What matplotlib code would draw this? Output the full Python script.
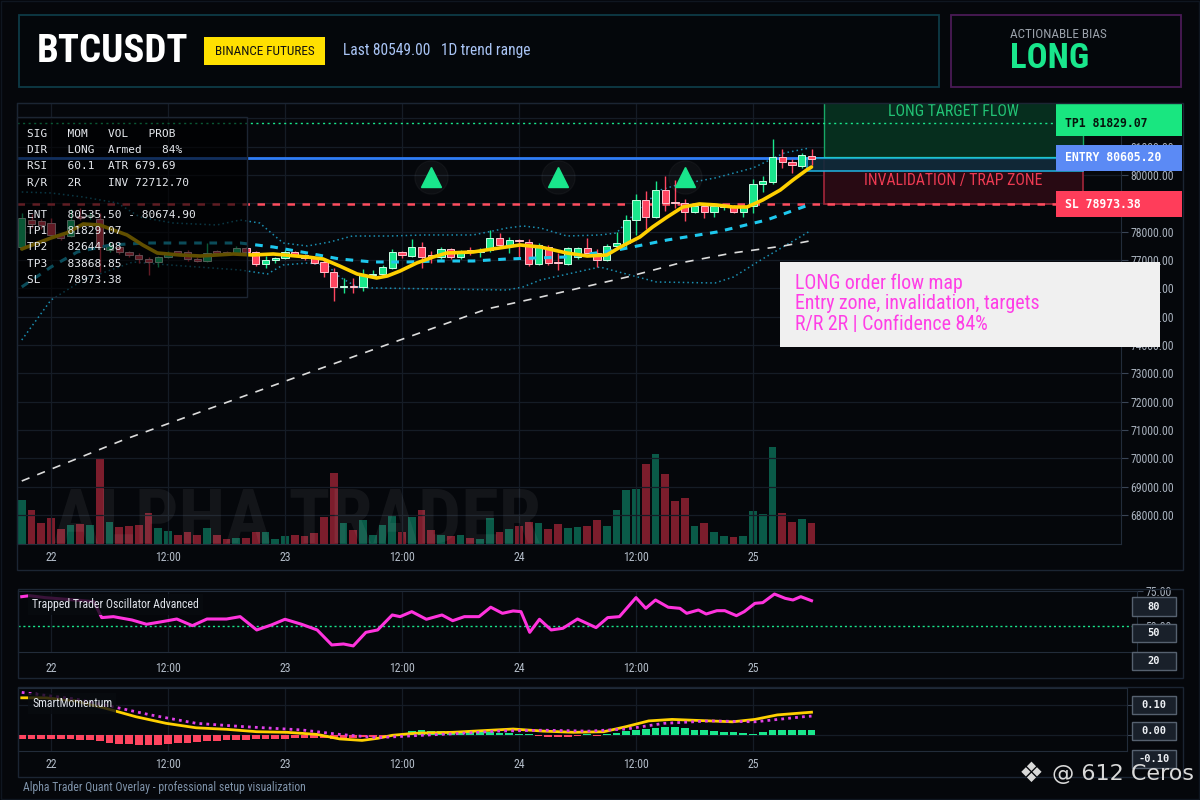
import matplotlib
matplotlib.use("Agg")
import matplotlib.pyplot as plt
from matplotlib import font_manager
from matplotlib.patches import Rectangle
from matplotlib.transforms import blended_transform_factory

# ---------------- data ----------------
# hourly candles, hour 0 = day 22 00:00
hours = list(range(-3, 79))
opens = [77470, 78420, 78380, 78310, 77890, 77860, 78560, 78540, 78450, 77360,
         77470, 77290, 77190, 77050, 76940, 77120, 77290, 77290, 77050, 76980,
         77290, 77290, 77260, 77430, 77290, 76870, 77010, 77080, 77290, 77190,
         77080, 76940, 76590, 76060, 76100, 76030, 76480, 76520, 76730, 77290,
         77150, 77470, 77190, 77120, 77400, 77120, 77360, 77290, 77360, 77790,
         77540, 77700, 77640, 76870, 77470, 76910, 76870, 77120, 77430, 77260,
         77010, 77500, 77610, 78420, 79120, 78520, 79470, 79020, 79020, 78700,
         78910, 78700, 78860, 78910, 78700, 78910, 79680, 79750, 80630, 80460,
         80320, 80670]
highs = [78660, 78630, 78450, 78490, 77960, 78800, 78840, 78700, 78660, 77620,
         77540, 77330, 77260, 77090, 77150, 77330, 77330, 77360, 77090, 77610,
         77360, 77330, 77500, 77470, 77330, 77150, 77120, 77360, 77330, 77220,
         77120, 77010, 76730, 76380, 76380, 76700, 76660, 76840, 77400, 77330,
         77750, 77640, 77330, 77470, 77430, 77360, 77470, 77430, 78070, 77960,
         77820, 77750, 77750, 77610, 77540, 77260, 77470, 77470, 77790, 77400,
         77570, 78000, 78590, 79330, 79440, 79790, 79960, 79820, 79160, 79020,
         78980, 79020, 78980, 78950, 78950, 79860, 79960, 81270, 80910, 80560,
         80770, 80910]
lows = [77360, 78140, 78100, 77790, 77720, 77800, 78420, 78450, 76560, 77290,
        77220, 77120, 76910, 76480, 76770, 77080, 77220, 76980, 76940, 76940,
        77190, 77190, 77220, 77260, 76800, 76730, 76910, 77050, 77150, 77010,
        76870, 76410, 75540, 75850, 75850, 75920, 76410, 76450, 76700, 77080,
        77120, 76730, 76910, 77050, 77050, 77050, 77190, 77120, 77290, 77470,
        77260, 77120, 76800, 76840, 76840, 76660, 76840, 77050, 77220, 76770,
        76980, 77470, 77470, 77890, 78100, 78490, 78730, 78840, 78380, 78660,
        78490, 78520, 78770, 78660, 78520, 78660, 79400, 79680, 80250, 80070,
        80250, 80350]
closes = [78490, 78280, 78240, 77890, 77790, 78420, 78490, 78590, 77470, 77540,
          77290, 77190, 77050, 76940, 77120, 77260, 77260, 77050, 76980, 77260,
          77260, 77220, 77430, 77290, 76870, 77010, 77080, 77290, 77190, 77080,
          76910, 76590, 76060, 76080, 76030, 76480, 76520, 76770, 77290, 77190,
          77470, 77120, 77120, 77400, 77120, 77330, 77290, 77360, 77790, 77540,
          77720, 77680, 76870, 77540, 76910, 76890, 77430, 77430, 77260, 77010,
          77500, 77610, 78420, 79120, 78520, 79470, 79020, 79000, 78700, 78910,
          78700, 78910, 78880, 78700, 78880, 79680, 79790, 80630, 80460, 80350,
          80700, 80549]
volumes = [1760, 1360, 840, 1040, 600, 760, 800, 760, 3400, 880,
           680, 720, 760, 1240, 640, 520, 360, 480, 360, 640,
           360, 200, 240, 240, 480, 480, 200, 320, 360, 320,
           440, 1080, 2840, 840, 560, 960, 360, 760, 1120, 480,
           1080, 1360, 560, 360, 320, 360, 240, 200, 1040, 480,
           600, 720, 880, 840, 600, 800, 640, 680, 720, 960,
           720, 1360, 2160, 2200, 3200, 3600, 2800, 1720, 1840, 720,
           840, 480, 320, 280, 320, 1320, 1200, 3880, 1240, 880,
           1000, 840]

# overlay lines (hour, price)
ema_t = [-3, 0, 1.6, 3.3, 5.0, 7.8, 9.4, 10.9, 13.2, 15.3, 18.7, 20.7, 22.8, 26.3, 27.9,
         29.6, 31.4, 33.4, 34.5, 35.8, 37.5, 39.2, 40.6, 43.3, 45.3, 48.1, 50.2, 52.9,
         55.0, 57.0, 58.4, 60.4, 61.7, 63.2, 64.8, 66.5, 68.3, 69.9, 71.4, 73.0, 74.8,
         76.1, 77.5, 78.0]
ema_v = [77389, 77777, 77953, 78271, 78236, 77883, 77530, 77247, 77177, 77141, 77212,
         77177, 77212, 77106, 77036, 76789, 76506, 76365, 76436, 76612, 76894, 77106,
         77247, 77283, 77389, 77530, 77459, 77247, 77141, 77177, 77459, 77812, 78165,
         78518, 78871, 78977, 78941, 78871, 78871, 79118, 79471, 79824, 80176, 80282]
mid_t = [-3, 0, 2.7, 6.1, 9.8, 19.4, 22.8, 26.3, 29.6, 33.0, 36.5, 39.9, 43.3, 46.8,
         49.8, 52.9, 58.1, 63.2, 68.3, 73.4, 78.0]
mid_v = [76048, 76753, 77283, 77530, 77600, 77600, 77459, 77247, 77036, 76930, 76930,
         76965, 76965, 77036, 77071, 77106, 77353, 77706, 77988, 78412, 78977]
upper_t = [-3, 0, 3.3, 6.8, 9.1, 12.5, 17.0, 19.4, 21.4, 23.8, 26.3, 28.6, 30.9, 34.8,
           38.2, 43.3, 46.8, 48.4, 50.2, 52.9, 56.3, 58.0, 60.2, 62.5, 64.2, 68.1,
           72.0, 75.2, 77.8]
upper_v = [79400, 79365, 79224, 79012, 78518, 78306, 78236, 78412, 78306, 77600, 77494,
           77636, 77847, 77847, 77883, 77883, 78130, 78200, 78130, 77847, 77883, 77953,
           78765, 79471, 79647, 79894, 80247, 80776, 80953]
lower_t = [-3, 0, 3.3, 8.4, 12.2, 19.4, 22.2, 23.8, 26.3, 28.3, 29.6, 31.4, 33.0, 39.9,
           46.8, 48.4, 50.2, 56.3, 62.1, 68.1, 70.0, 72.8, 77.8]
lower_v = [74177, 75589, 76295, 76930, 76824, 76647, 76506, 76824, 76894, 76824, 76400,
           76048, 76012, 75977, 75942, 76048, 76295, 76753, 76224, 76189, 76400, 77000,
           78012]
slow_t = [-3, 7.4, 15.3, 25.5, 35.8, 44.7, 49.8, 59.1, 64.5, 69.9, 75.1, 77.8]
slow_v = [69201, 70648, 71636, 72907, 74177, 75271, 75659, 76400, 76894, 77247, 77494,
          77671]

signal_t = [39, 52, 65]
signal_v = [79930, 79930, 79930]

# trade levels
ENTRY = 80605.20
SL = 78973.38
TP1 = 81829.07
TP3 = 83868.85
ENTRY_BOX = (80140, 80600)

# Trapped Trader Oscillator
osc_t = [-3.0, -2.2, -0.6, 2.5, 4.4, 5.2, 6.4, 8.3, 9.8, 11.4, 12.9, 14.5, 16.0, 18.0,
         19.4, 21.1, 22.6, 24.0, 25.7, 27.3, 28.8, 30.0, 31.0, 32.3, 33.5, 35.0, 35.8,
         37.0, 38.5, 40.1, 41.2, 42.4, 43.9, 45.1, 46.3, 47.4, 48.2, 49.1, 50.1, 51.3,
         52.5, 54.0, 55.9, 57.1, 58.3, 60.0, 61.0, 62.0, 63.3, 64.5, 65.2, 66.4, 67.2,
         68.3, 69.1, 70.3, 71.1, 72.2, 73.0, 74.2, 75.3, 76.1, 76.9, 78.0]
osc_v = [70.9, 71.6, 70.2, 68.5, 67.3, 55.8, 56.5, 54.1, 51.0, 52.9, 54.8, 50.0, 54.8,
         54.8, 56.5, 46.9, 50.5, 54.6, 51.0, 46.9, 36.1, 36.8, 35.4, 45.2, 46.9, 57.7,
         56.5, 60.1, 54.6, 57.7, 53.6, 56.5, 56.5, 63.3, 58.9, 60.6, 60.1, 45.2, 54.6,
         46.9, 48.1, 54.8, 48.6, 55.8, 56.5, 70.2, 62.5, 68.5, 63.3, 62.5, 58.9, 61.3,
         58.4, 60.8, 60.8, 57.2, 60.1, 66.1, 66.6, 72.8, 69.7, 68.5, 70.9, 68.0]

# SmartMomentum
mom_t = [-3.0, -0.6, 2.5, 5.6, 8.7, 11.8, 14.9, 18.0, 21.1, 24.2, 27.3, 29.6, 31.9, 33.5,
         35.0, 37.4, 41.2, 45.1, 47.4, 50.5, 53.6, 56.7, 59.0, 61.3, 63.7, 66.8, 69.9,
         72.2, 74.5, 77.2, 78.0]
mom_v = [0.125, 0.125, 0.115, 0.090, 0.062, 0.040, 0.025, 0.020, 0.012, 0.010, 0.003,
         -0.012, -0.017, -0.010, 0.0, 0.007, 0.010, 0.017, 0.021, 0.014, 0.010, 0.012,
         0.029, 0.048, 0.053, 0.049, 0.045, 0.053, 0.068, 0.075, 0.077]
sig_t = [-3.0, 2.5, 6.4, 10.2, 14.9, 19.7, 25.7, 29.6, 33.5, 37.4, 41.2, 45.9, 50.5, 55.2,
         59.0, 62.9, 67.6, 72.2, 77.2, 78.0]
sig_v = [0.143, 0.121, 0.095, 0.068, 0.040, 0.029, 0.018, 0.003, -0.008, -0.001, 0.005,
         0.014, 0.017, 0.014, 0.021, 0.040, 0.048, 0.045, 0.062, 0.064]
hist_v = [-0.011, -0.011, -0.011, -0.013, -0.011, -0.013, -0.015, -0.017, -0.019,
          -0.024, -0.028, -0.030, -0.032, -0.032, -0.031, -0.028, -0.026,
          -0.024, -0.022, -0.020, -0.019, -0.017, -0.015, -0.014, -0.013, -0.012, -0.011,
          -0.011, -0.010, -0.009, -0.009, -0.010, -0.011, -0.011, -0.009, -0.007, -0.006,
          -0.004, -0.002,
          0.004, 0.015, 0.017, 0.016, 0.015, 0.014, 0.013, 0.012, 0.012, 0.011, 0.009, 0.007,
          0.006, 0.004, -0.003, -0.004, -0.004, -0.005, -0.003, 0.004, -0.003, 0.006, 0.009,
          0.015,
          0.019, 0.022, 0.026, 0.028, 0.028, 0.024, 0.019, 0.017, 0.014, 0.012, 0.011, 0.009,
          0.006, 0.011, 0.017, 0.019, 0.019, 0.019, 0.019]

tick_hours = [0, 12, 24, 36, 48, 60, 72]
tick_labels = ["22", "12:00", "23", "12:00", "24", "12:00", "25"]
price_ticks = list(range(68000, 83000, 1000))
covered_ticks = [79000, 82000]  # sit fully behind the SL / TP1 badges

table_rows = ["SIG   MOM   VOL   PROB",
              "DIR   LONG  Armed   84%",
              "RSI   60.1  ATR 679.69",
              "R/R   2R    INV 72712.70",
              "ENT   80535.50 - 80674.90",
              "TP1   81829.07",
              "TP2   82644.98",
              "TP3   83868.85",
              "SL    78973.38"]
info_lines = ["LONG order flow map", "Entry zone, invalidation, targets",
              "R/R 2R | Confidence 84%"]

# ---------------- style ----------------
BG = "#05070b"
GRID = "#151c26"
SPINE = "#222c3a"
UP, DN = "#19e68c", "#ff4560"
UP_EDGE, DN_EDGE = "#c9ffe4", "#ffc4cf"
VUP, VDN = "#0a5a48", "#7c1d2c"
TICK = "#b3bcc8"
MONO = "DejaVu Sans Mono"


def pick_font(names):
    for n in names:
        try:
            font_manager.findfont(font_manager.FontProperties(family=n),
                                  fallback_to_default=False)
            return n
        except ValueError:
            pass
    return None


NARROW = pick_font(["Roboto Condensed", "Liberation Sans Narrow", "Open Sans Condensed"])
IS_NARROW = NARROW is not None
if not IS_NARROW:
    NARROW = "DejaVu Sans"


def fs(narrow, other):
    return narrow if IS_NARROW else other


W, H = 1200, 800
X22, PXH = 51.0, 9.75  # pixel of day 22 00:00 and pixels per hour


def rect_px(x0, y0, x1, y1):
    return [x0 / W, 1 - y1 / H, (x1 - x0) / W, (y1 - y0) / H]


def hours_lim(x0, x1):
    return ((x0 - X22) / PXH, (x1 - X22) / PXH)


fig = plt.figure(figsize=(12, 8), dpi=100)
fig.patch.set_facecolor(BG)


def fig_box(x0, y0, x1, y1, zorder=10, **kw):
    r = Rectangle((x0 / W, 1 - y1 / H), (x1 - x0) / W, (y1 - y0) / H,
                  transform=fig.transFigure, zorder=zorder, **kw)
    fig.add_artist(r)


def fig_text(x, y, s, **kw):
    kw.setdefault("zorder", 11)
    fig.text(x / W, 1 - y / H, s, **kw)


# ---------------- header ----------------
fig_box(19, 15, 939, 87, facecolor="#04070b", edgecolor="#0d3a46", lw=1.3)
fig_box(951, 15, 1181, 87, facecolor="#04070b", edgecolor="#4a1a56", lw=1.3)
fig_text(37, 51, "BTCUSDT", color="white", weight="bold", size=fs(28, 23),
         family=NARROW, va="center")
fig_box(204, 37, 325, 65, facecolor="#ffe000", edgecolor="none", zorder=10.5)
fig_text(264.5, 51.5, "BINANCE FUTURES", color="#111111", size=fs(9.5, 7.5),
         family=NARROW, ha="center", va="center")
fig_text(343, 51, "Last 80549.00   1D trend range", color="#a9c4f5",
         size=fs(11.2, 9), family=NARROW, va="center")
fig_text(1010, 34, "ACTIONABLE BIAS", color="#9aa1aa", size=fs(9.5, 7.8),
         family=NARROW, va="center")
fig_text(1010, 58, "LONG", color=UP, weight="bold", size=fs(25, 20),
         family=NARROW, va="center")

# ---------------- panel frames ----------------
fig_box(1, 1, 1199, 799, fill=False, edgecolor="#0f1620", lw=1)
fig_box(17, 103, 1183, 570, fill=False, edgecolor="#1b2533", lw=1)
fig_box(17.6, 589, 1183, 678, fill=False, edgecolor="#1b2533", lw=1)
fig_box(17.6, 687, 1183, 777, fill=False, edgecolor="#1b2533", lw=1)

# ---------------- main price panel ----------------
main_rect = rect_px(17, 103.3, 1120.7, 544.3)
ax_vol = fig.add_axes(main_rect)
ax = fig.add_axes(main_rect, sharex=ax_vol)
ax_vol.set_zorder(1)
ax.set_zorder(2)
ax.patch.set_visible(False)
ax_vol.set_facecolor(BG)

up = [c >= o for o, c in zip(opens, closes)]
ax_vol.bar(hours, volumes, width=0.8, color=[VUP if u else VDN for u in up], zorder=2)
ax_vol.set_ylim(0, 17640)
ax_vol.yaxis.set_visible(False)
ax_vol.tick_params(axis="x", which="both", bottom=False, labelbottom=False)
for s in ax_vol.spines.values():
    s.set_visible(False)

ax.set_xlim(*hours_lim(17, 1120.7))
ax.set_ylim(66967, 82530)
ax.set_axisbelow(True)
ax.set_xticks(tick_hours)
ax.set_xticklabels(tick_labels)
ax.set_yticks(price_ticks)
ax.set_yticklabels(["" if p in covered_ticks else f"{p:.2f}" for p in price_ticks])
ax.yaxis.tick_right()
ax.grid(True, color=GRID, lw=0.9)
ax.tick_params(axis="x", length=0, pad=5, colors=TICK, labelsize=fs(8.5, 7.5),
               labelbottom=True)
ax.tick_params(axis="y", length=5, width=0.8, color="#3a4556", pad=2,
               colors="#a8b1bd", labelsize=fs(8.5, 7))
for lab in ax.get_xticklabels() + ax.get_yticklabels():
    lab.set_family(NARROW)
for s in ax.spines.values():
    s.set_color(SPINE)

# bands and averages
ax.plot(upper_t, upper_v, color="#1b8fb2", lw=1.1, ls=(0, (1, 2)), zorder=3)
ax.plot(lower_t, lower_v, color="#1b8fb2", lw=1.1, ls=(0, (1, 2)), zorder=3)
ax.plot(slow_t, slow_v, color="#dcdcdc", lw=1.2, ls=(0, (5, 5)), zorder=3)

# levels
ax.axhline(ENTRY, color="#2f7df6", lw=2, zorder=3)
ax.axhline(SL, color="#ff4d5e", lw=1.8, ls=(0, (3, 3)), zorder=3)
ax.axhline(TP1, color=UP, lw=1, ls=(0, (1.5, 2.5)), zorder=3)

# zones
z0, z1 = hours_lim(824, 1083)
ax.add_patch(Rectangle((z0, ENTRY), z1 - z0, TP3 - ENTRY, facecolor="#062e1e",
                       edgecolor="#17a866", lw=1, zorder=2.6))
ax.hlines(ENTRY, z0, z1, color=UP, lw=1.6, zorder=3.2)
ax.add_patch(Rectangle((z0, SL), z1 - z0, ENTRY - SL, facecolor="#280a13",
                       edgecolor="#a3263a", lw=1.2, zorder=2.6))
b0, _ = hours_lim(806.7, 0)
ax.add_patch(Rectangle((b0, ENTRY_BOX[0]), z1 - b0, ENTRY_BOX[1] - ENTRY_BOX[0],
                       facecolor="#0e2b3b", edgecolor="#1fb8e6", lw=1.2, alpha=0.9,
                       zorder=3.3))
zc = (z0 + z1) / 2
ax.text(zc, 82240, "LONG TARGET FLOW", color="#22c375", size=fs(11.3, 9.2),
        family=NARROW, ha="center", va="center", zorder=7)
ax.text(zc, 79788, "INVALIDATION / TRAP ZONE", color="#ec3a52", size=fs(11.3, 9.2),
        family=NARROW, ha="center", va="center", zorder=7)

# candles
col = [UP if u else DN for u in up]
edge = [UP_EDGE if u else DN_EDGE for u in up]
ax.vlines(hours, lows, highs, colors=col, lw=1, zorder=4)
body_bottom = [min(o, c) for o, c in zip(opens, closes)]
body_h = [max(abs(c - o), 40) for o, c in zip(opens, closes)]
ax.bar(hours, body_h, bottom=body_bottom, width=0.72, color=col, edgecolor=edge,
       linewidth=0.7, zorder=5)

ax.plot(mid_t, mid_v, color="#1ec8ee", lw=2.2, ls=(0, (2.5, 2.5)), zorder=6)
ax.plot(ema_t, ema_v, color="#ffd000", lw=2.6, zorder=6.5, solid_capstyle="round")

# signal markers with soft glow
ax.plot(signal_t, signal_v, ls="none", marker="o", ms=24, color="white", alpha=0.035,
        zorder=6)
ax.plot(signal_t, signal_v, ls="none", marker="^", ms=14, color=UP, zorder=7)

# right-hand level labels
blend = blended_transform_factory(ax.transAxes, ax.transData)
lx0, lw_ = 0.9414, 0.1142
ax.add_patch(Rectangle((lx0, TP1 - 448), lw_, 1125, transform=blend, facecolor="#19e680",
                       edgecolor="none", clip_on=False, zorder=8))
ax.add_patch(Rectangle((lx0, ENTRY - 453), lw_, 907, transform=blend,
                       facecolor="#5b8af5", edgecolor="none", clip_on=False, zorder=8))
ax.add_patch(Rectangle((lx0, SL - 453), lw_, 907, transform=blend, facecolor="#ff3d5a",
                       edgecolor="none", clip_on=False, zorder=8))
ax.text(0.9495, TP1, f"TP1 {TP1:.2f}", transform=blend, color="#06140c", family=MONO,
        weight="bold", size=8.3, va="center", clip_on=False, zorder=9)
ax.text(0.9495, ENTRY, f"ENTRY {ENTRY:.2f}", transform=blend, color="white",
        family=MONO, weight="bold", size=8.3, va="center", clip_on=False, zorder=9)
ax.text(0.9495, SL, f"SL {SL:.2f}", transform=blend, color="white", family=MONO,
        weight="bold", size=8.3, va="center", clip_on=False, zorder=9)

# info card
ax.add_patch(Rectangle((0.6913, 0.4474), 0.3443, 0.1927, transform=ax.transAxes,
                       facecolor="#f0f0f0", edgecolor="none", clip_on=False, zorder=8))
for i, line in enumerate(info_lines):
    ax.text(0.7049, 0.5925 - i * 0.0476, line, transform=ax.transAxes, color="#ff3ee6",
            size=fs(14.3, 11.5), family=NARROW, va="center", clip_on=False, zorder=9)

# signal table overlay
fig_box(17, 117, 247, 297, facecolor="black", alpha=0.62, edgecolor="none", zorder=10)
fig_box(17, 117, 247, 297, fill=False, edgecolor="#1c2532", lw=1, zorder=10.2)
row_y = [134, 150, 166, 183, 215, 231, 247, 264, 280]
for y, row in zip(row_y, table_rows):
    fig_text(27, y, row, color="#e6e9ee", family=MONO, size=8, va="center")

# watermark
fig_text(53, 543, "ALPHA TRADER", color="white", alpha=0.06, weight="bold",
         size=fs(55, 42), family=NARROW, va="baseline", zorder=10.6)

# ---------------- oscillator panel ----------------
axo = fig.add_axes(rect_px(17.6, 590.7, 1136.7, 652.3))
axo.set_facecolor(BG)
axo.set_xlim(*hours_lim(17.6, 1136.7))
axo.set_ylim(30.8, 75.2)
axo.plot(osc_t, osc_v, color="#ff33dd", lw=2.2, zorder=3)
axo.axhline(50, color=UP, lw=1, ls=(0, (1.5, 2)), zorder=2)
axo.set_xticks(tick_hours)
axo.set_xticklabels(tick_labels)
axo.set_yticks([50, 75])
axo.set_yticklabels(["50.00", "75.00"])
axo.yaxis.tick_right()
axo.grid(True, axis="x", color=GRID, lw=0.9)
axo.tick_params(axis="x", length=0, pad=7, colors=TICK, labelsize=fs(8.5, 7.5))
axo.tick_params(axis="y", length=4, color="#3a4556", pad=2, colors="#a8b1bd",
                labelsize=fs(8.5, 7))
for lab in axo.get_xticklabels() + axo.get_yticklabels():
    lab.set_family(NARROW)
for s in axo.spines.values():
    s.set_color(SPINE)
axo.text(0.013, 0.77, "Trapped Trader Oscillator Advanced", transform=axo.transAxes,
         color="#dfe3ea", size=fs(8.5, 7.5), family=NARROW, va="center", zorder=5,
         bbox=dict(facecolor="#080b10", alpha=0.8, edgecolor="none", pad=3))

# ---------------- momentum panel ----------------
axm = fig.add_axes(rect_px(17.6, 688, 1126.7, 750.7))
axm.set_facecolor(BG)
axm.set_xlim(*hours_lim(17.6, 1126.7))
axm.set_ylim(-0.0513, 0.1577)
axm.bar(hours, hist_v, width=0.8, color=[UP if v >= 0 else DN for v in hist_v], zorder=2)
axm.plot(mom_t, mom_v, color="#ffd000", lw=2, zorder=3)
axm.plot(sig_t, sig_v, color="#e040e8", lw=2, ls=(0, (1, 1.5)), zorder=3)
axm.set_xticks(tick_hours)
axm.set_xticklabels(tick_labels)
axm.set_yticks([0.0, 0.1])
axm.set_yticklabels(["", ""])
axm.yaxis.tick_right()
axm.grid(True, color=GRID, lw=0.9)
axm.set_axisbelow(True)
axm.tick_params(axis="x", length=0, pad=5, colors=TICK, labelsize=fs(8.5, 7.5))
axm.tick_params(axis="y", length=4, color="#3a4556")
for lab in axm.get_xticklabels():
    lab.set_family(NARROW)
for s in axm.spines.values():
    s.set_color(SPINE)
axm.text(0.013, 0.75, "SmartMomentum", transform=axm.transAxes, color="#dfe3ea",
         size=fs(8.5, 7.5), family=NARROW, va="center", zorder=5,
         bbox=dict(facecolor="#080b10", alpha=0.8, edgecolor="none", pad=3))

# value badges on the right of the sub panels
badges = [(597, 616, "80"), (624, 642, "50"), (652, 670, "20"),
          (696, 714, "0.10"), (722, 740, "0.00"), (750, 768, "-0.10")]
for y0, y1, s in badges:
    fig_box(1132, y0, 1176, y1, facecolor="#19202a", edgecolor="#56616f", lw=1)
    fig_text(1154, (y0 + y1) / 2, s, color="#eef1f5", family=MONO, weight="bold",
             size=7.5, ha="center", va="center")

# footer and credit
fig_text(23, 787, "Alpha Trader Quant Overlay - professional setup visualization",
         color="#7f93aa", size=fs(8.5, 7), family=NARROW, va="center")
fig_text(1019, 774, "\u2756", color="#d9d9d9", size=20, family="DejaVu Sans",
         va="center", zorder=12)
fig_text(1052, 774, "@ 612 Ceros", color="#d9d9d9", size=16, family="DejaVu Sans",
         va="center", zorder=12)

fig.savefig("out.png", dpi=100, facecolor=BG)
